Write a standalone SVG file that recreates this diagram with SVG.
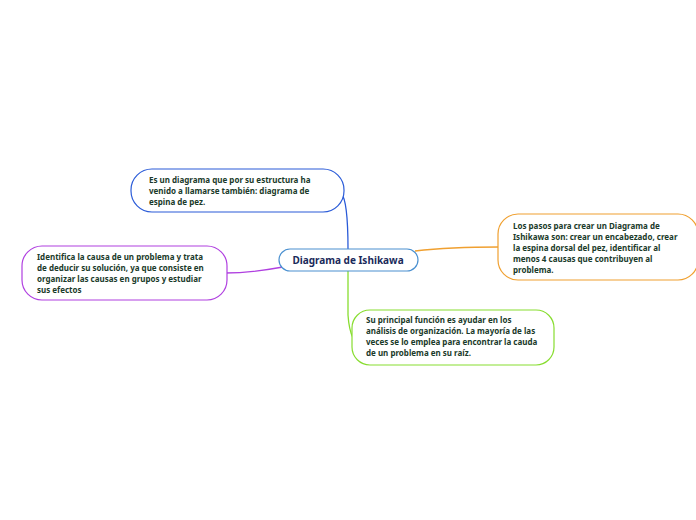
<svg xmlns="http://www.w3.org/2000/svg" width="696" height="520" viewBox="0 0 696 520">
<style>
.t{font-family:"Noto Sans","Open Sans",sans-serif;font-size:8px;font-weight:bold;fill:#1a3a2a}
.c{fill:none;stroke-width:1.3}
.n{fill:#fff;stroke-width:1.2}
</style>
<rect width="696" height="520" fill="#fff"/>
<g id="connectors">
<path class="c" stroke="#2a5bd8" d="M341,193 Q348,200 348,249"/>
<path class="c" stroke="#b040e0" d="M225,273 Q250,273 283,267"/>
<path class="c" stroke="#f0a030" d="M415,251 Q450,247 499,247"/>
<path class="c" stroke="#88dd30" d="M348,270 L348,315 Q349,330 353,338"/>
</g>
<g id="center">
<rect class="n" stroke="#4a90d0" x="279" y="249" width="139" height="22" rx="11"/>
<text x="348" y="264" text-anchor="middle" style="font-family:'Noto Sans',sans-serif;font-size:10px;font-weight:bold;fill:#1a2a5a">Diagrama de Ishikawa</text>
</g>
<g id="n1">
<rect class="n" stroke="#2a5bd8" x="131" y="169" width="213" height="43" rx="21"/>
<text class="t"><tspan x="149" y="183">Es un diagrama que por su estructura ha</tspan><tspan x="149" y="194">venido a llamarse también: diagrama de</tspan><tspan x="149" y="205">espina de pez.</tspan></text>
</g>
<g id="n2">
<rect class="n" stroke="#b040e0" x="22" y="246" width="205" height="54" rx="20"/>
<text class="t"><tspan x="37" y="260">Identifica la causa de un problema y trata</tspan><tspan x="37" y="271">de deducir su solución, ya que consiste en</tspan><tspan x="37" y="282">organizar las causas en grupos y estudiar</tspan><tspan x="37" y="293">sus efectos</tspan></text>
</g>
<g id="n3">
<rect class="n" stroke="#f0a030" x="498" y="214" width="200" height="66" rx="20"/>
<text class="t"><tspan x="513" y="229">Los pasos para crear un Diagrama de</tspan><tspan x="513" y="240">Ishikawa son: crear un encabezado, crear</tspan><tspan x="513" y="251">la espina dorsal del pez, identificar al</tspan><tspan x="513" y="262">menos 4 causas que contribuyen al</tspan><tspan x="513" y="273">problema.</tspan></text>
</g>
<g id="n4">
<rect class="n" stroke="#88dd30" x="352" y="310" width="202" height="55" rx="18"/>
<text class="t"><tspan x="366" y="323">Su principal función es ayudar en los</tspan><tspan x="366" y="334">análisis de organización. La mayoría de las</tspan><tspan x="366" y="345">veces se lo emplea para encontrar la cauda</tspan><tspan x="366" y="356">de un problema en su raíz.</tspan></text>
</g>
</svg>
